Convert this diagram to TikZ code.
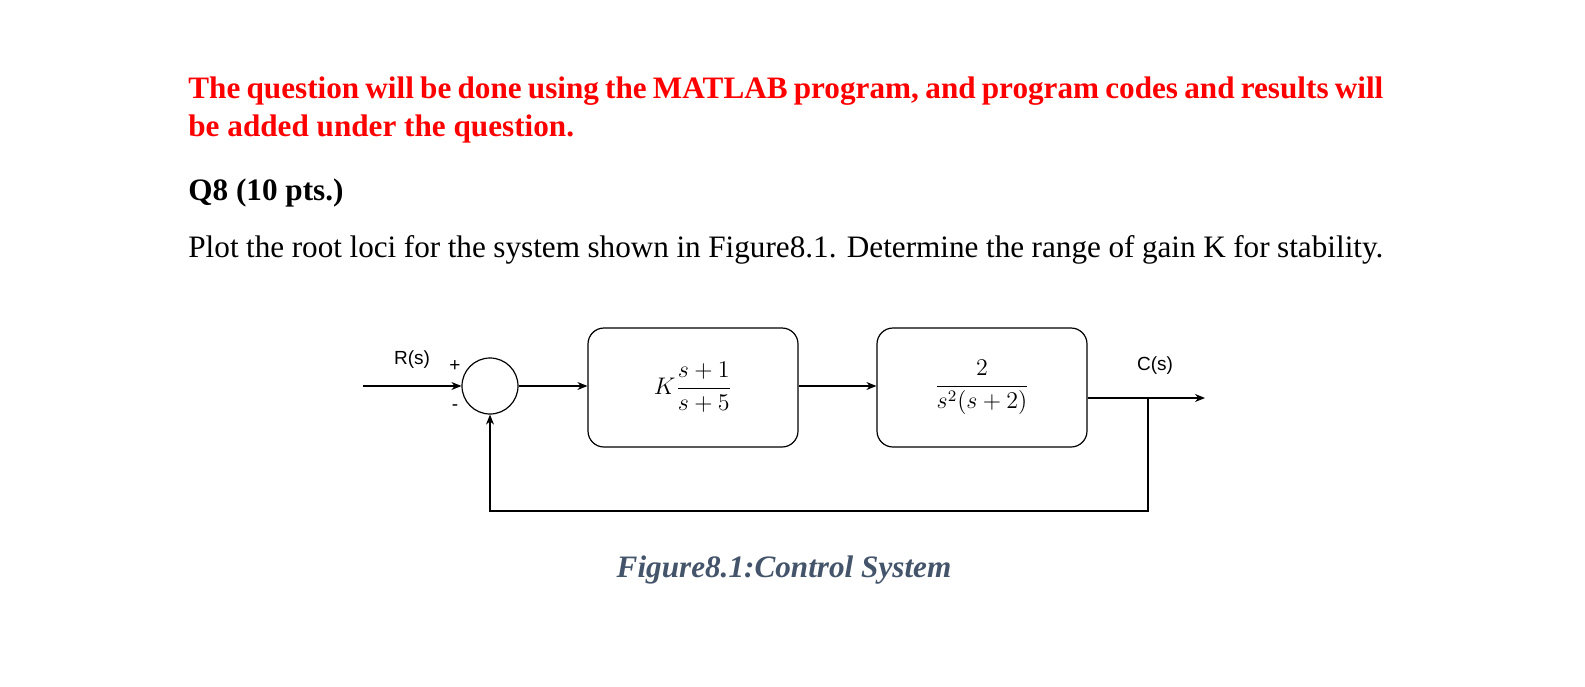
\documentclass[tikz,border=0pt]{standalone}
\usepackage{amsmath}
\usepackage{fontspec}
\setmainfont{Liberation Serif}
\newfontfamily\arialf{Liberation Sans}
\usetikzlibrary{arrows.meta}
\definecolor{capc}{HTML}{44546A}
\tikzset{blk/.style={draw,rounded corners=8pt,minimum width=105pt,minimum height=59.5pt,line width=0.6pt},
 ln/.style={line width=0.6pt},
 arr/.style={ln,-{Stealth[length=5pt,width=4pt]}},
 lbl/.style={font=\arialf\fontsize{9.5}{11}\selectfont},
 para/.style={anchor=base west,text width=597.5pt,align=justify,inner sep=0pt,font=\fontsize{15}{19}\selectfont}}
\begin{document}
\begin{tikzpicture}[x=0.5pt,y=-0.5pt]
\useasboundingbox (0,0) rectangle (1585,686);
\node[para,text=red,font=\bfseries\fontsize{15.6}{19}\selectfont] (t1) at (188,98) {The question will be done using the MATLAB program, and program codes and results will be added under the question.};
\node[para,font=\bfseries\fontsize{15.6}{19}\selectfont] (q8) at (188,200) {Q8 (10 pts.)};
\node[para,font=\fontsize{15.6}{20.5}\selectfont] (p) at (188,257) {Plot the root loci for the system shown in Figure8.1. Determine the range of gain K for stability.};
\node[circle,draw,ln,minimum size=28pt,inner sep=0pt] (sum) at (490,386) {};
\coordinate (in) at (363,386);
\node[blk] (b1) at (693,387.5) {\fontsize{12}{14}\selectfont$K\dfrac{s+1}{s+5}$};
\node[blk] (b2) at (982,387.5) {\fontsize{12}{14}\selectfont$\dfrac{2}{s^2(s+2)}$};
\coordinate (out) at (1205,398);
\coordinate (tap) at (1148,398);
\coordinate (fb) at (1148,511);
\node[lbl] (rs) at (412,360) {R(s)};
\node[lbl] (plus) at (455,366) {+};
\node[lbl] (minus) at (455,408) {-};
\node[lbl] (cs) at (1155,366) {C(s)};
\draw[arr] (in) -- (sum);
\draw[arr] (sum) -- (b1.west|-sum);
\draw[arr] (b1.east|-sum) -- (b2.west|-sum);
\draw[arr] (b2.east|-out) -- (out);
\draw[arr] (tap) -- (fb) -| (sum.south);
\node[anchor=base,text=capc,font=\bfseries\itshape\fontsize{15.6}{19}\selectfont] (cap) at (784,577) {Figure8.1:Control System};
\end{tikzpicture}
\end{document}
